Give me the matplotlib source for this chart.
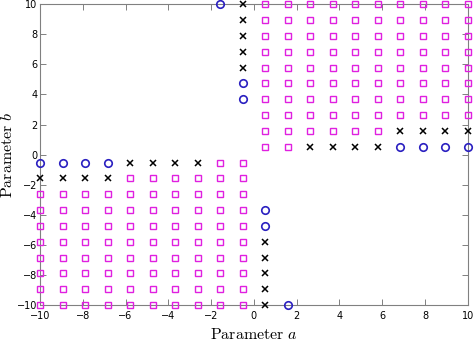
import matplotlib
matplotlib.use("Agg")
import matplotlib.pyplot as plt
import numpy as np

plt.rcParams["mathtext.fontset"] = "cm"

# parameter grid (20 x 20 from -10 to 10)
a_vals = np.linspace(-10, 10, 20)
b_vals = np.linspace(-10, 10, 20)

# classification map, top row = b = 10, bottom row = b = -10
# s = square, x = cross, o = circle, . = nothing
grid_rows = [
    "........oxssssssssss",
    ".........xssssssssss",
    ".........xssssssssss",
    ".........xssssssssss",
    ".........xssssssssss",
    ".........ossssssssss",
    ".........ossssssssss",
    "..........ssssssssss",
    "..........ssssssxxxx",
    "..........ssxxxxoooo",
    "ooooxxxxss..........",
    "xxxxssssss..........",
    "ssssssssss..........",
    "sssssssssso.........",
    "sssssssssso.........",
    "ssssssssssx.........",
    "ssssssssssx.........",
    "ssssssssssx.........",
    "ssssssssssx.........",
    "ssssssssssxo........",
]

ticks = [-10, -8, -6, -4, -2, 0, 2, 4, 6, 8, 10]

def points(ch):
    xs, ys = [], []
    n = len(grid_rows)
    for r, row in enumerate(grid_rows):
        for c, v in enumerate(row):
            if v == ch:
                xs.append(a_vals[c])
                ys.append(b_vals[n - 1 - r])
    return xs, ys

fig = plt.figure(figsize=(4.74, 3.47), dpi=100)
ax = fig.add_axes([0.0844, 0.121, 0.9026, 0.867])

sx, sy = points("s")
ax.plot(sx, sy, "s", ms=4.4, mfc="none", mec="#e020e0", mew=1.0, clip_on=False, zorder=3)
xx, xy = points("x")
ax.plot(xx, xy, "x", ms=3.8, color="black", mew=1.1, clip_on=False, zorder=3)
ox, oy = points("o")
ax.plot(ox, oy, "o", ms=5.4, mfc="none", mec="#2a1fc0", mew=1.2, clip_on=False, zorder=3)

ax.set_xlim(-10, 10)
ax.set_ylim(-10, 10)
ax.set_xticks(ticks)
ax.set_yticks(ticks)
ax.tick_params(direction="in", length=4, width=0.7, colors="#808080",
               labelcolor="black", labelsize=7, top=True, right=True, pad=2)
ax.tick_params(axis="x", pad=4)
for sp in ax.spines.values():
    sp.set_color("#808080")
    sp.set_linewidth(0.8)

ax.set_xlabel(r"$\mathrm{Parameter}\ a$", fontsize=11.5)
ax.set_ylabel(r"$\mathrm{Parameter}\ b$", fontsize=11.5)
ax.xaxis.set_label_coords(0.5, -0.074)
ax.yaxis.set_label_coords(-0.058, 0.5)

fig.savefig("out.png", dpi=100)
